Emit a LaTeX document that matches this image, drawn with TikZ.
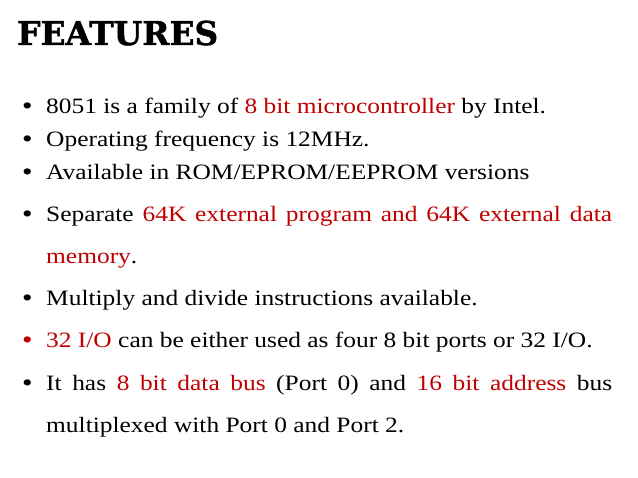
\documentclass[tikz,border=0pt]{standalone}
\usepackage{fontspec}
\setmainfont{Liberation Serif}[FakeStretch=1.16]
\newfontfamily\titlefont{DejaVu Serif}[FakeBold=1.5]
\definecolor{hl}{RGB}{192,0,0}
\begin{document}
\begin{tikzpicture}[x=1bp,y=-1bp,
  line/.style={anchor=base west,inner sep=0pt,font=\fontsize{22}{24}\selectfont},
  bul/.style={anchor=base west,inner sep=0pt,font=\fontsize{26}{24}\selectfont}]
\useasboundingbox[fill=white] (0,0) rectangle (638,478);
\node[anchor=base west,inner sep=0pt,font=\titlefont\bfseries\fontsize{31}{34}\selectfont] (t) at (17,45) {\resizebox{201bp}{!}{FEATURES}};
\foreach \y/\c [count=\i] in {115/black,148/black,181/black,223/black,306/black,348/hl,391/black}
  \node[bul,text=\c] (b\i) at (22,\y) {•};
\node[line] (l1) at (46,114) {8051 is a family of \textcolor{hl}{8 bit microcontroller} by Intel.};
\node[line] (l2) at (46,147) {Operating frequency is 12MHz.};
\node[line] (l3) at (46,180) {Available in ROM/EPROM/EEPROM versions};
\node[line] (l4) at (46,222) {\makebox[566bp][s]{Separate \textcolor{hl}{64K external program and 64K external data}}};
\node[line] (l4b) at (46,263) {\textcolor{hl}{memory}.};
\node[line] (l5) at (46,305) {Multiply and divide instructions available.};
\node[line] (l6) at (46,347) {\textcolor{hl}{32 I/O} can be either used as four 8 bit ports or 32 I/O.};
\node[line] (l7) at (46,390) {\makebox[566bp][s]{It has \textcolor{hl}{8 bit data bus} (Port 0) and \textcolor{hl}{16 bit address} bus}};
\node[line] (l7b) at (46,432) {multiplexed with Port 0 and Port 2.};
\end{tikzpicture}
\end{document}
